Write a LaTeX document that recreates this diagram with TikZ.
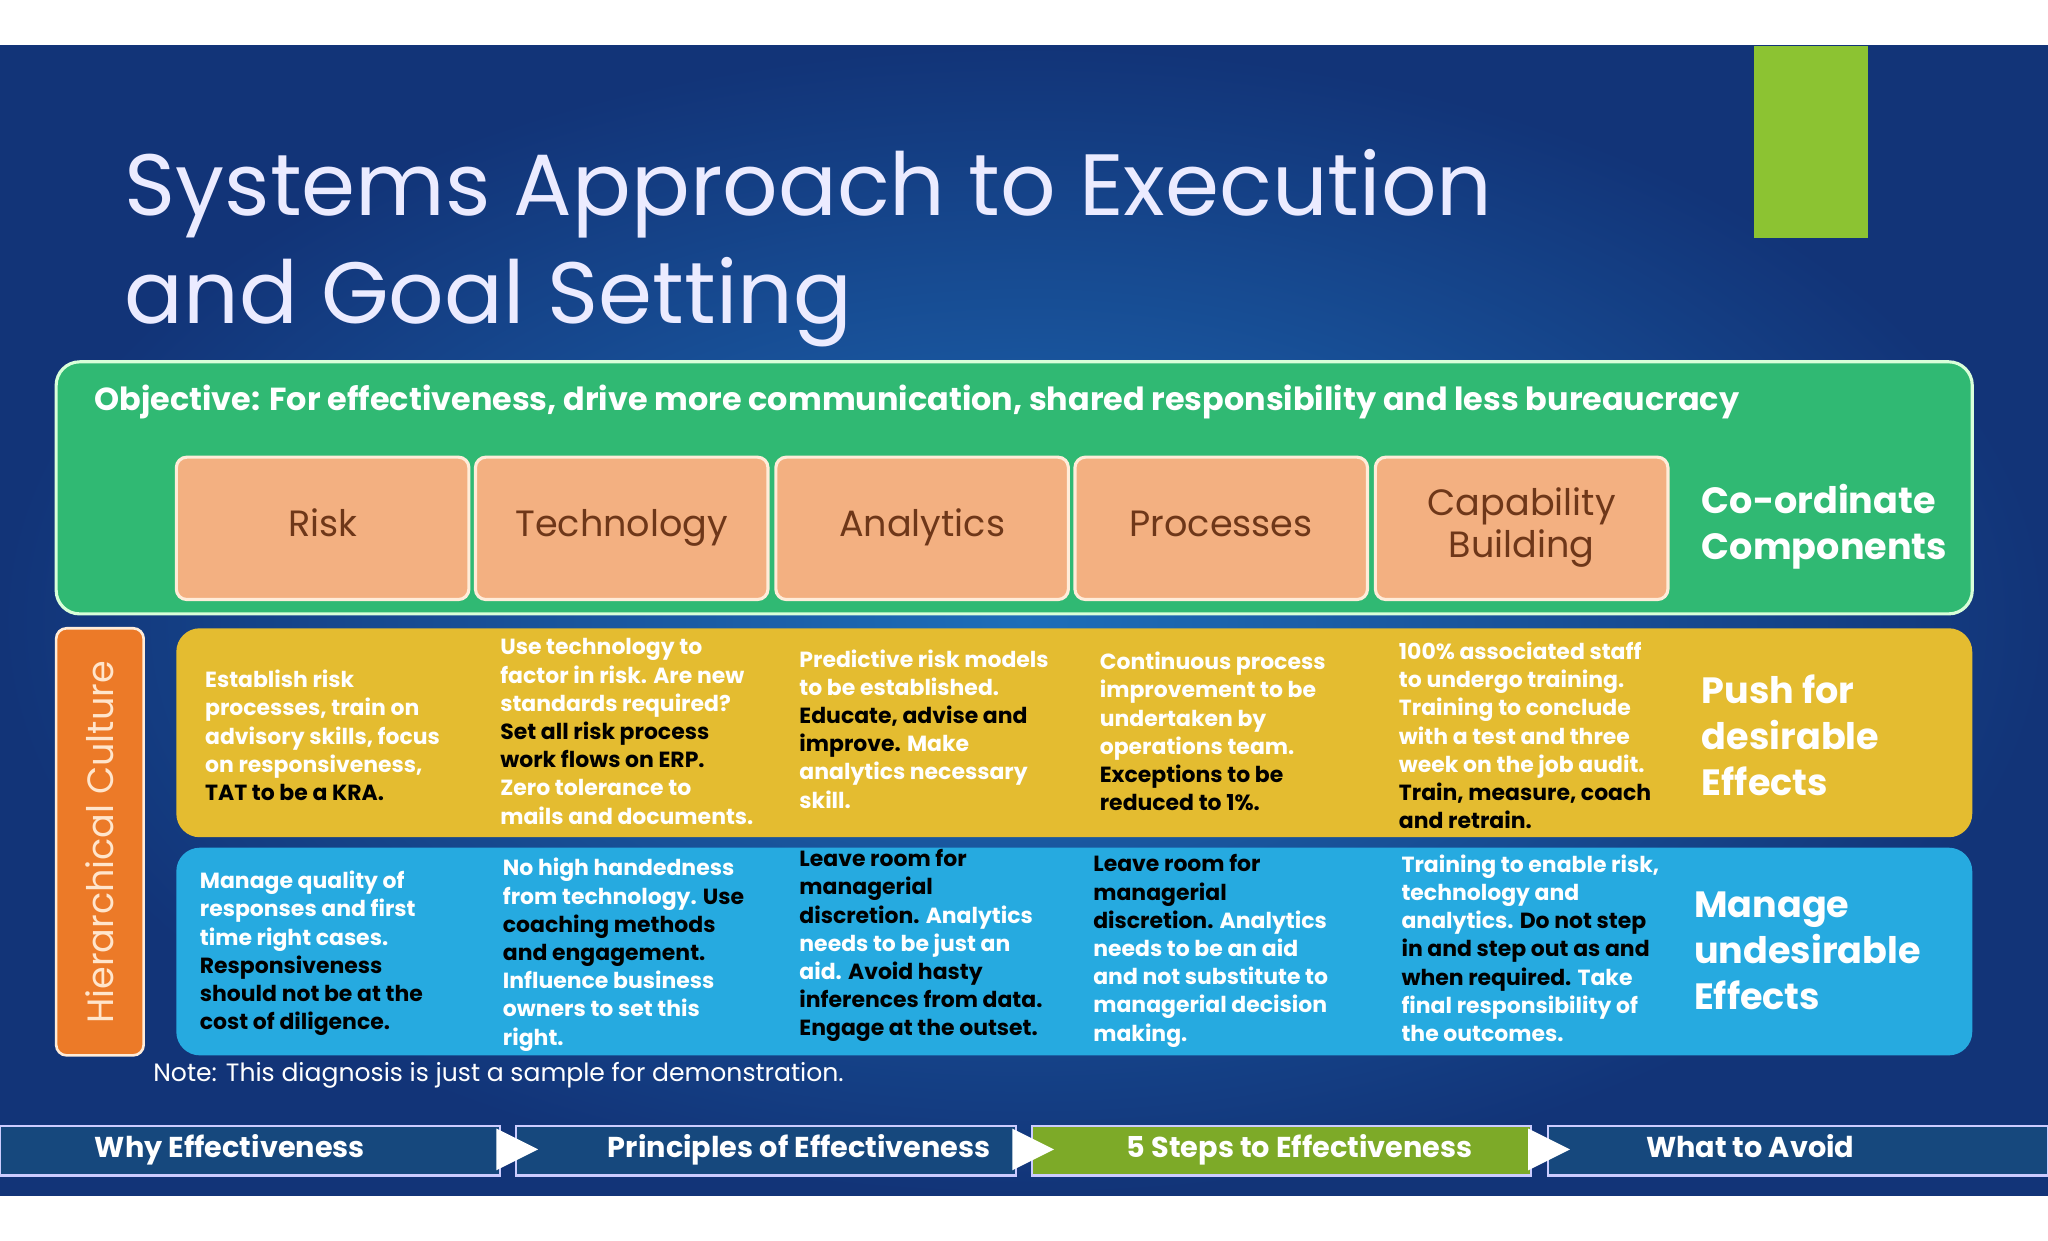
\documentclass[tikz,border=0pt]{standalone}
\usepackage{fontspec}
\setmainfont{Poppins}
\begin{document}
\begin{tikzpicture}[x=0.5pt,y=-0.5pt,
  orangebox/.style={draw=white!85!orange,line width=1.2pt,fill=obox,rounded corners=4pt},
  otext/.style={text=otxt,font=\fontsize{14}{15}\selectfont,align=center},
  cell/.style={anchor=west,align=left,font=\fontsize{8.4}{10.8}\selectfont\bfseries,text=white},
  side/.style={anchor=west,align=left,font=\fontsize{14}{17.5}\selectfont\bfseries,text=white},
  nav/.style={draw=white!80!blue,line width=0.8pt},
  navtext/.style={text=white,font=\fontsize{11}{12}\selectfont\bfseries}]
\definecolor{bgdark}{RGB}{18,52,120}
\definecolor{bglight}{RGB}{30,110,185}
\definecolor{gbox}{RGB}{48,185,115}
\definecolor{obox}{RGB}{243,176,129}
\definecolor{otxt}{RGB}{110,55,25}
\definecolor{ybox}{RGB}{228,188,48}
\definecolor{bbox}{RGB}{38,170,224}
\definecolor{hbox}{RGB}{236,122,40}
\definecolor{lime}{RGB}{140,195,50}
\definecolor{navblue}{RGB}{22,72,125}
\definecolor{navgreen}{RGB}{125,170,40}
\useasboundingbox (0,0) rectangle (1568,950);
\fill[white] (0,0) rectangle (1568,950);
\shade[inner color=bglight,outer color=bgdark] (0,35) rectangle (1568,915);
\fill[lime] (1343,35) rectangle (1430,182);
\node[anchor=base west,text=white!92!blue,font=\fontsize{33.3}{40}\selectfont,inner sep=0] (t1) at (95,165) {Systems Approach to Execution};
\node[anchor=base west,text=white!92!blue,font=\fontsize{33.3}{40}\selectfont,inner sep=0] (t2) at (95,248) {and Goal Setting};
% green objective box
\draw[gbox,fill=gbox,draw=white!85!green,line width=1.2pt,rounded corners=9pt] (43,277) rectangle (1510,470);
\node[anchor=west,text=white,font=\fontsize{12.2}{14}\selectfont\bfseries,inner sep=0] (obj) at (72,308) {Objective: For effectiveness, drive more communication, shared responsibility and less bureaucracy};
\foreach \x/\t/\n in {135/Risk/r,364/Technology/te,594/Analytics/a,823/Processes/p,1053/{Capability\\Building}/c}{
  \draw[orangebox] (\x,350) rectangle ++(224,109);
  \node[otext] (\n) at (\x+112,404.5) {\strut\t\strut};
}
\node[side] (cc) at (1296,403) {Co-ordinate\\Components};
% hierarchical
\draw[fill=hbox,draw=white!85!orange,line width=1pt,rounded corners=4pt] (43,481) rectangle (110,808);
\node[rotate=90,text=white!80!orange,font=\fontsize{14}{16}\selectfont] (hc) at (76.5,645) {Hierarchical Culture};
% yellow row
\fill[ybox,rounded corners=9pt] (135,481) rectangle (1510,641);
\node[cell] (y1) at (150,563) {Establish risk\\processes, train on\\advisory skills, focus\\on responsiveness,\\\textcolor{black}{TAT to be a KRA.}};
\node[cell] (y2) at (376,560) {Use technology to\\factor in risk. Are new\\standards required?\\\textcolor{black}{Set all risk process}\\\textcolor{black}{work flows on ERP.}\\Zero tolerance to\\mails and documents.};
\node[cell] (y3) at (605,558) {Predictive risk models\\to be established.\\\textcolor{black}{Educate, advise and}\\\textcolor{black}{improve.} Make\\analytics necessary\\skill.};
\node[cell] (y4) at (835,560) {Continuous process\\improvement to be\\undertaken by\\operations team.\\\textcolor{black}{Exceptions to be}\\\textcolor{black}{reduced to 1\%.}};
\node[cell] (y5) at (1064,563) {100\% associated staff\\to undergo training.\\Training to conclude\\with a test and three\\week on the job audit.\\\textcolor{black}{Train, measure, coach}\\\textcolor{black}{and retrain.}};
\node[side] (pd) at (1296,563) {Push for\\desirable\\Effects};
% blue row
\fill[bbox,rounded corners=9pt] (135,649) rectangle (1510,808);
\node[cell] (b1) at (146,730) {Manage quality of\\responses and first\\time right cases.\\\textcolor{black}{Responsiveness}\\\textcolor{black}{should not be at the}\\\textcolor{black}{cost of diligence.}};
\node[cell] (b2) at (378,731) {No high handedness\\from technology. \textcolor{black}{Use}\\\textcolor{black}{coaching methods}\\\textcolor{black}{and engagement.}\\Influence business\\owners to set this\\right.};
\node[cell] (b3) at (605,724) {\textcolor{black}{Leave room for}\\\textcolor{black}{managerial}\\\textcolor{black}{discretion.} Analytics\\needs to be just an\\aid. \textcolor{black}{Avoid hasty}\\\textcolor{black}{inferences from data.}\\\textcolor{black}{Engage at the outset.}};
\node[cell] (b4) at (830,728) {\textcolor{black}{Leave room for}\\\textcolor{black}{managerial}\\\textcolor{black}{discretion.} Analytics\\needs to be an aid\\and not substitute to\\managerial decision\\making.};
\node[cell] (b5) at (1066,726) {Training to enable risk,\\technology and\\analytics. \textcolor{black}{Do not step}\\\textcolor{black}{in and step out as and}\\\textcolor{black}{when required.} Take\\final responsibility of\\the outcomes.};
\node[side] (mu) at (1290,728) {Manage\\undesirable\\Effects};
\node[anchor=west,text=white,font=\fontsize{9.6}{11}\selectfont,inner sep=0] (note) at (117,823) {Note: This diagnosis is just a sample for demonstration.};
% nav
\draw[nav,fill=navblue] (0,862) rectangle (383,900);
\draw[nav,fill=navblue] (395,862) rectangle (778,900);
\draw[nav,fill=navgreen] (790,862) rectangle (1172,900);
\draw[nav,fill=navblue] (1185,862) rectangle (1568,900);
\foreach \x in {380,775,1170}{ \fill[white] (\x,864) -- (\x+32,880) -- (\x,896) -- cycle; }
\node[navtext] (n1) at (176,881) {\strut Why Effectiveness};
\node[navtext] (n2) at (612,881) {\strut Principles of Effectiveness};
\node[navtext] (n3) at (995,881) {\strut 5 Steps to Effectiveness};
\node[navtext] (n4) at (1340,881) {\strut What to Avoid};
\end{tikzpicture}
\end{document}
